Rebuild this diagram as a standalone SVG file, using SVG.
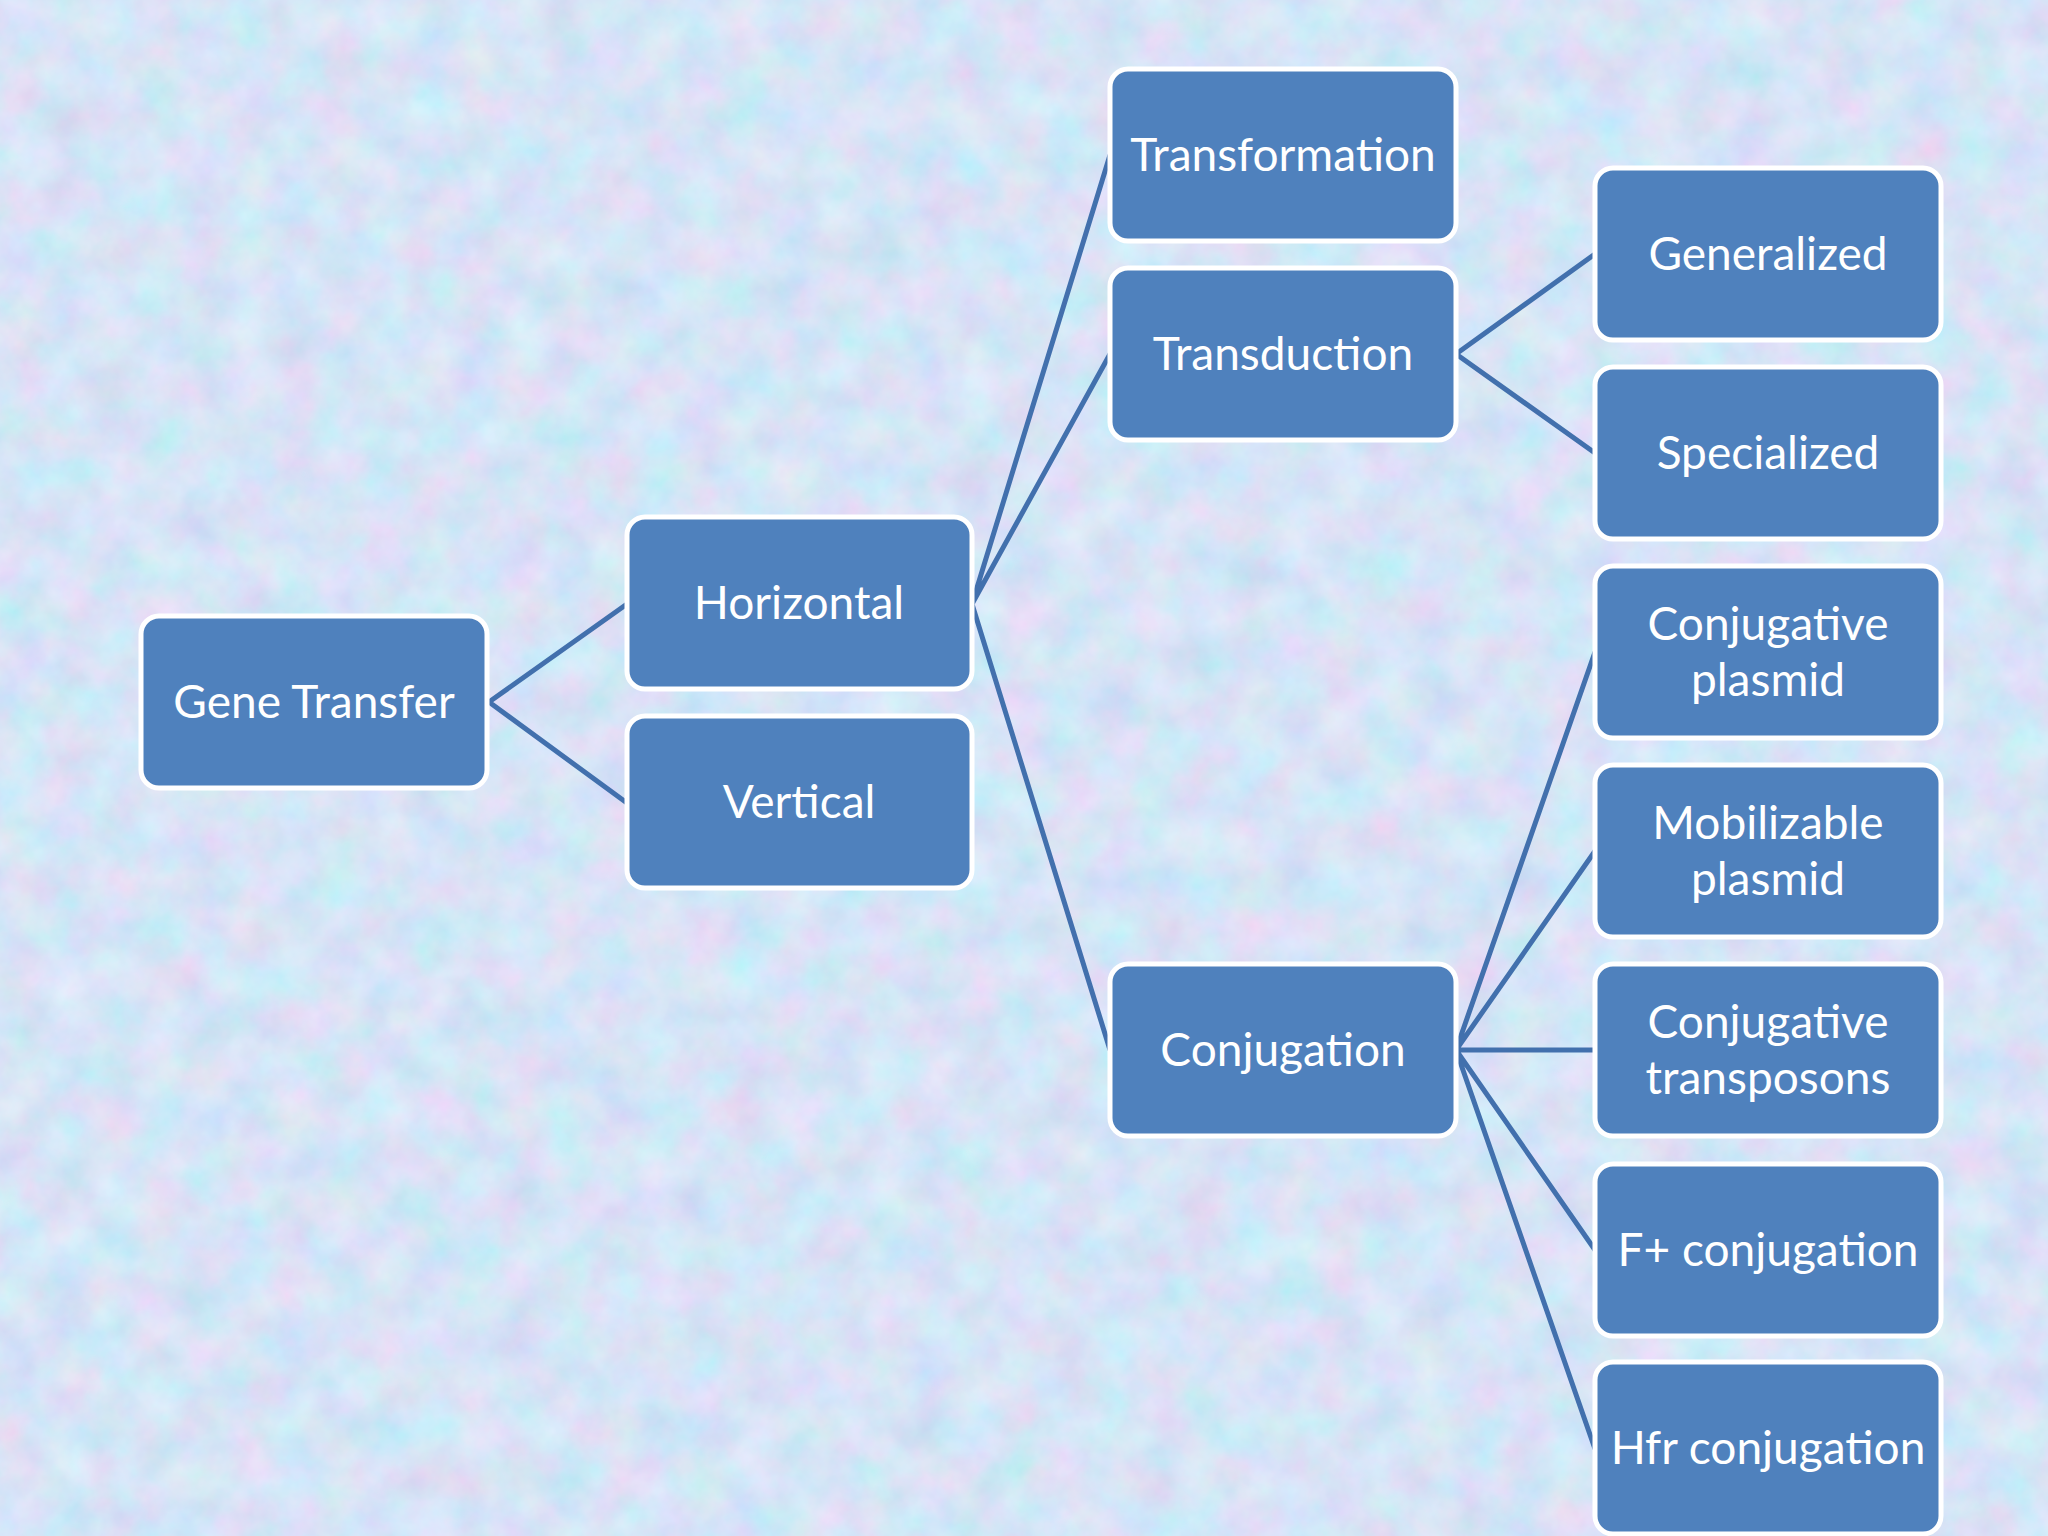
<svg xmlns="http://www.w3.org/2000/svg" width="2048" height="1536" viewBox="0 0 2048 1536">
<defs>
<filter id="tex" x="0" y="0" width="2048" height="1536" filterUnits="userSpaceOnUse">
<feTurbulence type="fractalNoise" baseFrequency="0.022" numOctaves="4" seed="7" result="n"/>
<feColorMatrix in="n" type="matrix" values="0.5 -0.2 0 0 0.58  0 0.35 0.1 0 0.6  0 0 0.2 0 0.84  0 0 0 0 1"/>
</filter>
<style>
.box{fill:#4f81bd;stroke:#ffffff;stroke-width:5}
.lbl{font-family:Lato,"Open Sans","Liberation Sans",sans-serif;font-size:46px;fill:#ffffff;text-anchor:middle}
.con{stroke:#4270ad;stroke-width:5;fill:none}
</style>
</defs>
<rect width="2048" height="1536" fill="#bacef1"/>
<rect width="2048" height="1536" filter="url(#tex)" opacity="0.8"/>
<g id="connectors">
<path class="con" d="M489 702 L627 604 M489 702 L627 803"/>
<path class="con" d="M972 604 L1110 155 M972 604 L1110 354 M972 604 L1110 1050"/>
<path class="con" d="M1456 354 L1595 254 M1456 354 L1595 453"/>
<path class="con" d="M1456 1050 L1595 652 M1456 1050 L1595 851 M1456 1050 L1595 1050 M1456 1050 L1595 1250 M1456 1050 L1595 1449"/>
</g>
<g id="gene-transfer"><rect class="box" x="141" y="616" width="346" height="172" rx="18"/><text class="lbl" x="314" y="718">Gene Transfer</text></g>
<g id="horizontal"><rect class="box" x="627" y="517" width="345" height="172" rx="18"/><text class="lbl" x="799" y="619">Horizontal</text></g>
<g id="vertical"><rect class="box" x="627" y="716" width="345" height="172" rx="18"/><text class="lbl" x="799" y="818">Vertical</text></g>
<g id="transformation"><rect class="box" x="1110" y="69" width="346" height="172" rx="18"/><text class="lbl" x="1283" y="171">Transformation</text></g>
<g id="transduction"><rect class="box" x="1110" y="268" width="346" height="172" rx="18"/><text class="lbl" x="1283" y="370">Transduction</text></g>
<g id="conjugation"><rect class="box" x="1110" y="964" width="346" height="172" rx="18"/><text class="lbl" x="1283" y="1066">Conjugation</text></g>
<g id="generalized"><rect class="box" x="1595" y="168" width="346" height="172" rx="18"/><text class="lbl" x="1768" y="270">Generalized</text></g>
<g id="specialized"><rect class="box" x="1595" y="367" width="346" height="172" rx="18"/><text class="lbl" x="1768" y="469">Specialized</text></g>
<g id="conjugative-plasmid"><rect class="box" x="1595" y="566" width="346" height="172" rx="18"/><text class="lbl" x="1768" y="640">Conjugative</text><text class="lbl" x="1768" y="696">plasmid</text></g>
<g id="mobilizable-plasmid"><rect class="box" x="1595" y="765" width="346" height="172" rx="18"/><text class="lbl" x="1768" y="839">Mobilizable</text><text class="lbl" x="1768" y="895">plasmid</text></g>
<g id="conjugative-transposons"><rect class="box" x="1595" y="964" width="346" height="172" rx="18"/><text class="lbl" x="1768" y="1038">Conjugative</text><text class="lbl" x="1768" y="1094">transposons</text></g>
<g id="f-plus-conjugation"><rect class="box" x="1595" y="1164" width="346" height="172" rx="18"/><text class="lbl" x="1768" y="1266">F+ conjugation</text></g>
<g id="hfr-conjugation"><rect class="box" x="1595" y="1362" width="346" height="172" rx="18"/><text class="lbl" x="1768" y="1464">Hfr conjugation</text></g>
</svg>
